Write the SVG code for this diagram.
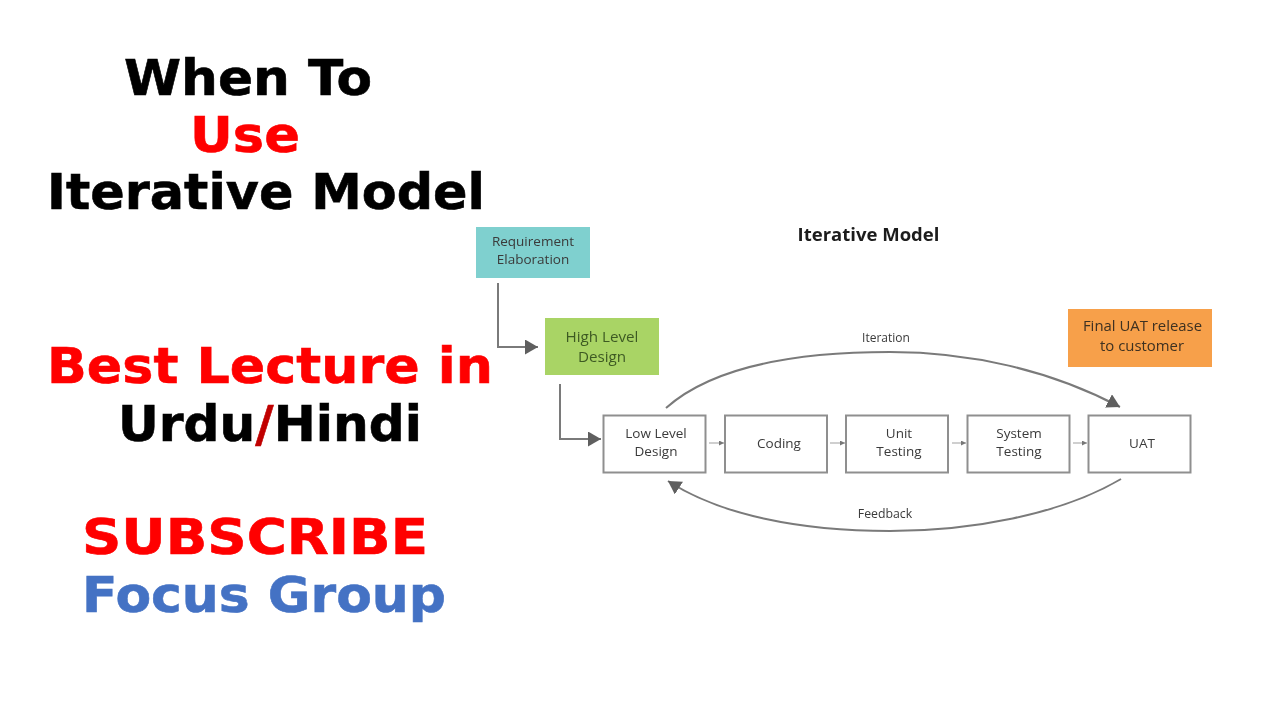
<svg xmlns="http://www.w3.org/2000/svg" width="1280" height="720" viewBox="0 0 1280 720">
<defs>
<marker id="big" markerUnits="userSpaceOnUse" markerWidth="14" markerHeight="16" refX="13" refY="7.5" orient="auto"><path d="M0 0L13 7.5L0 15Z" fill="#5f5f5f"/></marker>
<marker id="tiny" markerUnits="userSpaceOnUse" markerWidth="6" markerHeight="6" refX="5" refY="2.5" orient="auto"><path d="M0 0L5 2.500L0 5Z" fill="#777"/></marker>
<filter id="soft" x="-5%" y="-20%" width="110%" height="140%"><feGaussianBlur stdDeviation="0.4"/></filter>
</defs>
<style>
.h{font-family:"DejaVu Sans",sans-serif;font-weight:700;font-size:50px;text-anchor:middle;stroke-width:0.6px}
.k{fill:#000;stroke:#000}
.r{fill:#ff0000;stroke:#ff0000}
.u{fill:#4472c4;stroke:#4472c4}
.l{font-family:"Open Sans","Noto Sans",sans-serif;text-anchor:middle;font-size:13.5px;fill:#3a3a3a;filter:url(#soft)}
.c{fill:none;stroke:#7a7a7a;stroke-width:2;filter:url(#soft)}
.b{fill:#fff;stroke:#8f8f8f;stroke-width:2}
.t{stroke:#b5b5b5;stroke-width:1.3;fill:none;marker-end:url(#tiny)}
</style>
<rect width="1280" height="720" fill="#fff"/>
<g id="headings">
<text class="h k" x="248" y="95" textLength="248" lengthAdjust="spacingAndGlyphs">When To</text>
<text class="h r" x="245" y="152" textLength="110" lengthAdjust="spacingAndGlyphs">Use</text>
<text class="h k" x="266" y="209" textLength="438" lengthAdjust="spacingAndGlyphs">Iterative Model</text>
<text class="h r" x="270" y="383" textLength="446" lengthAdjust="spacingAndGlyphs">Best Lecture in</text>
<text class="h k" x="270" y="441" textLength="304" lengthAdjust="spacingAndGlyphs">Urdu<tspan fill="#c00000" stroke="#c00000">/</tspan>Hindi</text>
<text class="h r" x="255" y="554" textLength="346" lengthAdjust="spacingAndGlyphs">SUBSCRIBE</text>
<text class="h u" x="264" y="612" textLength="364" lengthAdjust="spacingAndGlyphs">Focus Group</text>
</g>
<text id="title" class="l" x="868.500" y="241" font-weight="700" style="font-size:18.500px;fill:#1c1c1c">Iterative Model</text>
<g id="connectors">
<path class="c" d="M498 283V347H538" marker-end="url(#big)"/>
<path class="c" d="M560 384V439H601" marker-end="url(#big)"/>
<path class="c" d="M666 408C720 360 820 352 890 352C970 352 1050 370 1120 407" marker-end="url(#big)"/>
<path class="c" d="M1121 479C1060 515 970 531 890 531C800 531 720 515 668 481" marker-end="url(#big)"/>
<path class="c" d="M1142 411V370" marker-end="url(#big)"/>
<path class="t" d="M709 443H724"/>
<path class="t" d="M830 443H845"/>
<path class="t" d="M952 443H966"/>
<path class="t" d="M1073 443H1087"/>
</g>
<g id="req"><rect x="476" y="227" width="114" height="51" fill="#7fd0cf"/><text class="l" x="533" y="246">Requirement</text><text class="l" x="533" y="264">Elaboration</text></g>
<g id="high"><rect x="545" y="318" width="114" height="57" fill="#a9d465"/><text class="l" x="602" y="342" style="font-size:15.200px;fill:#3e5a24">High Level</text><text class="l" x="602" y="362" style="font-size:15.200px;fill:#3e5a24">Design</text></g>
<g id="low"><rect class="b" x="603.500" y="415.500" width="102" height="57"/><text class="l" x="656" y="438">Low Level</text><text class="l" x="656" y="456">Design</text></g>
<g id="coding"><rect class="b" x="725" y="415.500" width="102" height="57"/><text class="l" x="779" y="448">Coding</text></g>
<g id="unit"><rect class="b" x="846" y="415.500" width="102" height="57"/><text class="l" x="899" y="438">Unit</text><text class="l" x="899" y="456">Testing</text></g>
<g id="system"><rect class="b" x="967.500" y="415.500" width="102" height="57"/><text class="l" x="1019" y="438">System</text><text class="l" x="1019" y="456">Testing</text></g>
<g id="uat"><rect class="b" x="1088.500" y="415.500" width="102" height="57"/><text class="l" x="1142" y="448">UAT</text></g>
<g id="final"><rect x="1068" y="309" width="144" height="58" fill="#f7a04a"/><text class="l" x="1142.500" y="331" style="font-size:14.900px;fill:#3d3020">Final UAT release</text><text class="l" x="1142" y="351" style="font-size:14.900px;fill:#3d3020">to customer</text></g>
<g id="edge-labels"><text class="l" x="886" y="342" style="font-size:12px">Iteration</text><text class="l" x="885" y="518" style="font-size:12.300px">Feedback</text></g>
</svg>
